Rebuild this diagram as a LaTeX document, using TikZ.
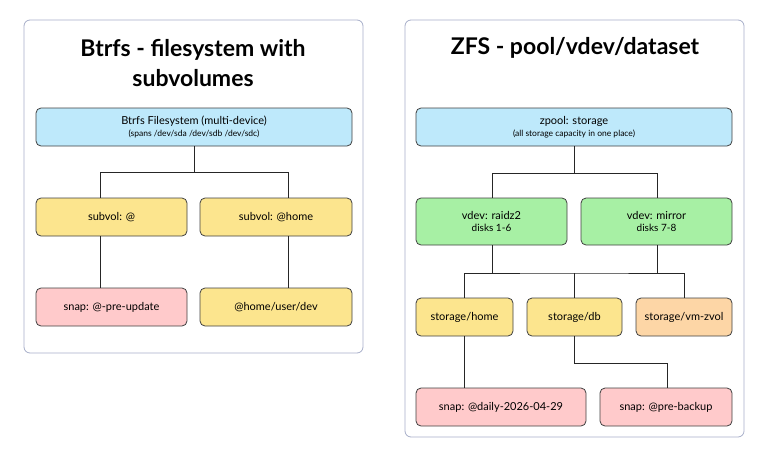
\documentclass[tikz,border=0pt]{standalone}
\usepackage{fontspec}
\setmainfont{Lato}
\usepackage{tikz}
\usetikzlibrary{positioning,calc}
\definecolor{fsblue}{HTML}{BEE9FB}
\definecolor{volyel}{HTML}{FCE58E}
\definecolor{snappink}{HTML}{FFCACB}
\definecolor{vdevgrn}{HTML}{A7F0A4}
\definecolor{zvolorg}{HTML}{FDD6A6}
\definecolor{panelln}{HTML}{A6ADC8}
\tikzset{
  panel/.style = {draw=panelln, rounded corners=6pt, line width=0.8pt},
  boxnode/.style = {draw=black!75, rounded corners=5pt, line width=0.8pt,
    align=center, inner sep=0pt, font=\fontsize{11}{13}\selectfont},
  box_b/.style = {boxnode, fill=fsblue},% pool / filesystem
  box_y/.style = {boxnode, fill=volyel},% subvolume, dataset
  box_p/.style = {boxnode, fill=snappink},% snapshot
  box_g/.style = {boxnode, fill=vdevgrn},% vdev
  box_o/.style = {boxnode, fill=zvolorg},% zvol
  link/.style = {draw=black!85, line width=0.8pt}
}
\newcommand{\subtxt}[1]{{\fontsize{8.5}{10}\selectfont #1}}
\newcommand{\bx}[6]{% style, name, x1, y1, x2, y2
  \node[#1, minimum width=#5pt-#3pt, minimum height=#6pt-#4pt]
    (#2) at ({(#3+#5)/2}, {(#4+#6)/2})}

\begin{document}
\begin{tikzpicture}[x=1pt, y=-1pt]
\useasboundingbox (0,0) rectangle (768,458);
\draw[panel] (24,20) rectangle (363,353);
\draw[panel] (405,20) rectangle (744,437);
\node[font=\bfseries\fontsize{23}{30}\selectfont, align=center] (t_btrfs) at (193,63)
  {Btrfs - filesystem with\\subvolumes};
\node[font=\bfseries\fontsize{23}{30}\selectfont] (t_zfs) at (575,48)
  {ZFS - pool/vdev/dataset};

% btrfs
\bx{box_b}{fs}{36}{108}{352}{146} {Btrfs Filesystem (multi-device)\\[-1pt]\subtxt{(spans /dev/sda /dev/sdb /dev/sdc)}};
\bx{box_y}{sv_root}{36}{198}{187}{236} {subvol: @};
\bx{box_y}{sv_home}{200}{198}{352}{236} {subvol: @home};
\bx{box_p}{sn_pre}{36}{288}{187}{326} {snap: @-pre-update};
\bx{box_y}{dir_dev}{200}{288}{352}{326} {@home/user/dev};
\coordinate (j_fs) at (194,172);
\draw[link] (fs.south -| j_fs) -- (j_fs) -| (sv_root.north -| 100,0);
\draw[link] (j_fs) -| (sv_home.north -| 288,0);
\draw[link] (sv_root.south -| 100,0) -- (sn_pre.north -| 100,0);
\draw[link] (sv_home.south -| 288,0) -- (dir_dev.north -| 288,0);

% zfs
\bx{box_b}{pool}{416}{108}{732}{146} {zpool: storage\\[-1pt]\subtxt{(all storage capacity in one place)}};
\bx{box_g}{raidz}{416}{198}{567}{245} {vdev: raidz2\\[-1pt]{\fontsize{10}{12}\selectfont disks 1-6}};
\bx{box_g}{mirror}{581}{198}{732}{245} {vdev: mirror\\[-1pt]{\fontsize{10}{12}\selectfont disks 7-8}};
\bx{box_y}{ds_home}{416}{298}{513}{336} {storage/home};
\bx{box_y}{ds_db}{527}{298}{622}{336} {storage/db};
\bx{box_o}{ds_zvol}{636}{298}{732}{336} {storage/vm-zvol};
\bx{box_p}{sn_daily}{416}{388}{586}{426} {snap: @daily-2026-04-29};
\bx{box_p}{sn_bkp}{600}{388}{732}{426} {snap: @pre-backup};
\coordinate (j_pool) at (574,173);
\coordinate (j_vdev) at (574,273);
\draw[link] (pool.south -| j_pool) -- (j_pool) -| (raidz.north -| 492,0);
\draw[link] (j_pool) -| (mirror.north -| 657,0);
\draw[link] (raidz.south -| 492,0) -- (492,273);
\draw[link] (mirror.south -| 657,0) -- (657,273);
\draw[link] (ds_home.north -| 464,0) |- (j_vdev) -| (ds_zvol.north -| 684,0);
\draw[link] (j_vdev) -- (ds_db.north -| j_vdev);
\draw[link] (ds_home.south -| 464,0) -- (sn_daily.north -| 464,0);
\draw[link] (ds_db.south -| 574,0) |- (667,363) -- (sn_bkp.north -| 667,0);
\end{tikzpicture}
\end{document}
